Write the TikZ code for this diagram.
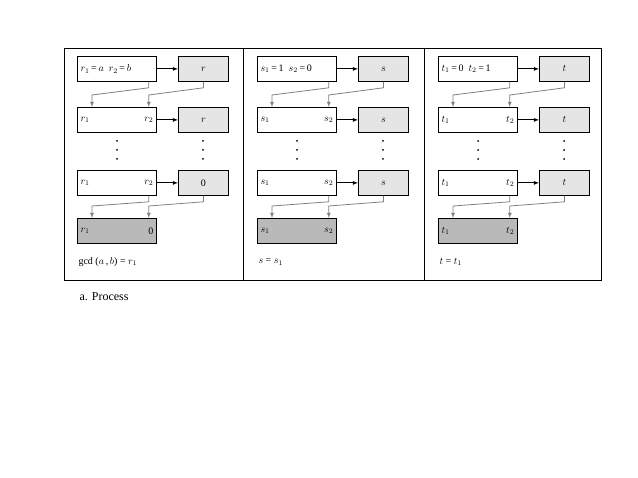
\documentclass[tikz,border=0pt]{standalone}
\usepackage{fontspec}
\setmainfont{Liberation Serif}
\begin{document}
\begin{tikzpicture}[x=1pt,y=-1pt,
  wbox/.style={draw,thick,fill=white,minimum width=79pt,minimum height=25pt,inner sep=0,anchor=north west},
  gbox/.style={draw,thick,fill=gray!20,minimum width=50pt,minimum height=25pt,inner sep=0,anchor=north west},
  dbox/.style={draw,thick,fill=gray!55,minimum width=79pt,minimum height=25pt,inner sep=0,anchor=north west},
  harr/.style={thick,-latex},
  garr/.style={gray,thick,-latex},
  txt/.style={font=\normalsize}]
\useasboundingbox (0,0) rectangle (638,478);
\draw[thick] (64,48) rectangle (601,280);
\draw[thick] (243,48) -- (243,280) (424,48) -- (424,280);
\foreach \p/\ox/\va/\ga/\gb/\gc/\la/\lb/\lc/\fin in {
  a/0/{$r_1$\,=\,$a$\ \ $r_2$\,=\,$b$}/{$r$}/{$r$}/{0}/{$r_1$}/{$r_2$}/{0}/{gcd ($a$\,,\,$b$) = $r_1$},
  b/180/{$s_1$\,=\,1\ \ $s_2$\,=\,0}/{$s$}/{$s$}/{$s$}/{$s_1$}/{$s_2$}/{$s_2$}/{$s$ = $s_1$},
  c/361/{$t_1$\,=\,0\ \ $t_2$\,=\,1}/{$t$}/{$t$}/{$t$}/{$t_1$}/{$t_2$}/{$t_2$}/{$t$ = $t_1$}}{
  \begin{scope}[xshift=\ox]
  \node[wbox] (\p w1) at (77,56) {};
  \node[txt,anchor=west] at (\p w1.west) {\va};
  \node[gbox] (\p g1) at (178,56) {\ga};
  \node[wbox] (\p w2) at (77,107) {};
  \node[txt,anchor=west] at (\p w2.west) {\la};
  \node[txt,anchor=east] at (\p w2.east) {\lb};
  \node[gbox] (\p g2) at (178,107) {\gb};
  \node[wbox] (\p w3) at (77,170) {};
  \node[txt,anchor=west] at (\p w3.west) {\la};
  \node[txt,anchor=east] at (\p w3.east) {\lb};
  \node[gbox] (\p g3) at (178,170) {\gc};
  \node[dbox] (\p w4) at (77,218) {};
  \node[txt,anchor=west] at (\p w4.west) {\la};
  \node[txt,anchor=east] at (\p w4.east) {\lc};
  \node[txt,anchor=west] (\p lab) at (75,262) {\fin};
  \draw[harr] (\p w1) -- (\p g1);
  \draw[harr] (\p w2) -- (\p g2);
  \draw[harr] (\p w3) -- (\p g3);
  \foreach \i/\j in {1/2,3/4}{
    \draw[garr] ([xshift=-8pt]\p w\i.south east) -- ++(0,6) -- ([xshift=15pt,yshift=12pt]\p w\j.north west) -- ([xshift=15pt]\p w\j.north west);
    \draw[garr] (\p g\i.south) -- ++(0,6) -- ([xshift=-8pt,yshift=12pt]\p w\j.north east) -- ([xshift=-8pt]\p w\j.north east);
  }
  \foreach \yy in {141,150,159}{
    \fill (117,\yy) circle (1pt);
    \fill (203,\yy) circle (1pt);
  }
  \end{scope}
}
\node[anchor=west,font=\large] (cap) at (76,297) {a. Process};
\end{tikzpicture}
\end{document}
